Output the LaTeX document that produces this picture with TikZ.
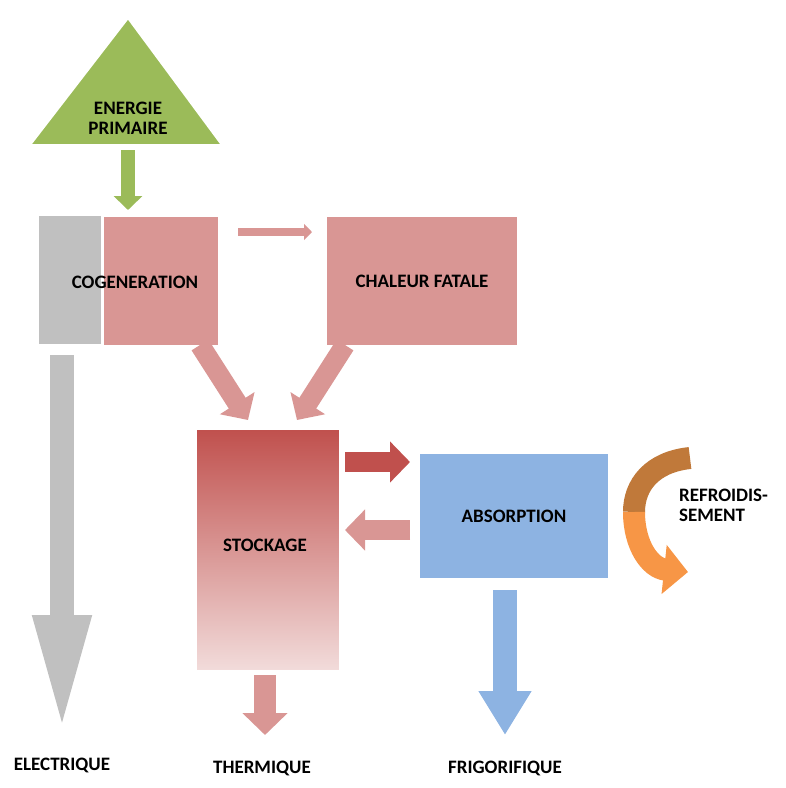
\documentclass[tikz,border=0pt]{standalone}
\usepackage{fontspec}
\setmainfont{Carlito}
\usetikzlibrary{arrows.meta}
\definecolor{vert}{HTML}{9BBB59}
\definecolor{rose}{HTML}{D99694}
\definecolor{rouge}{HTML}{C0504D}
\definecolor{rosepale}{HTML}{F2DCDB}
\definecolor{bleu}{HTML}{8DB3E2}
\definecolor{gris}{HTML}{C0C0C0}
\definecolor{brun}{HTML}{C0793A}
\definecolor{orange}{HTML}{F79646}
\tikzset{
  boite/.style={draw=white,line width=1pt,inner sep=0pt},
  lbl/.style={font=\bfseries\fontsize{9.5}{10}\selectfont,align=center},
  fleche/.style={line width=#1,-{Triangle[width=2*#1,length=#1]}},
}
\begin{document}
\begin{tikzpicture}[x=0.5pt,y=-0.5pt]
    \useasboundingbox (0,0) rectangle (786,788);
    % triangle
    \filldraw[vert,draw=white,line width=1pt] (128,18) -- (222,145) -- (30,145) -- cycle;
    \node[lbl] (prim) at (128,118) {ENERGIE\\PRIMAIRE};
    % boites
    \fill[gris,draw=white,line width=1pt] (38,215) rectangle (102,345);
    \node[boite,fill=rose,minimum width=58pt,minimum height=65pt,anchor=north west] (cogen) at (102,215) {};
    \node[lbl] at (135,282) {COGENERATION};
    \node[boite,fill=rose,minimum width=96pt,minimum height=65pt,anchor=north west] (fatale) at (325,215) {};
    \node[lbl] at (fatale.center) {CHALEUR FATALE};
    \node[boite,minimum width=72pt,minimum height=121pt,anchor=north west,
      top color=rouge,bottom color=rosepale] (stock) at (195,428) {};
    \node[lbl] at (265,545) {STOCKAGE};
    \node[boite,fill=bleu,minimum width=95pt,minimum height=63pt,anchor=north west] (absorb) at (418,452) {};
    \node[lbl] at (absorb.center) {ABSORPTION};
    % fleches
    \coordinate (g1) at (128,150);
    \coordinate (g2) at (128,210);
    \draw[vert,fleche=7pt] (g1) -- (g2);
    \coordinate (c1) at (238,232);
    \coordinate (c2) at (312,232);
    \draw[rose,fleche=4pt] (c1) -- (c2);
    \coordinate (d1) at (200,345);
    \coordinate (d2) at (248,420);
    \draw[rose,fleche=10pt] (d1) -- (d2);
    \coordinate (e1) at (345,345);
    \coordinate (e2) at (297,420);
    \draw[rose,fleche=10pt] (e1) -- (e2);
    \coordinate (r1) at (345,462);
    \coordinate (r2) at (410,462);
    \draw[rouge,fleche=10pt] (r1) -- (r2);
    \coordinate (p1) at (410,530);
    \coordinate (p2) at (345,530);
    \draw[rose,fleche=10pt] (p1) -- (p2);
    \coordinate (el1) at (62,355);
    \coordinate (el2) at (62,735);
    \draw[gris,line width=12pt,-{Triangle[width=26pt,length=60pt]}] (el1) -- (el2);
    \coordinate (t1) at (265,675);
    \coordinate (t2) at (265,735);
    \draw[rose,fleche=11pt] (t1) -- (t2);
    \coordinate (f1) at (505,590);
    \coordinate (f2) at (505,735);
    \draw[bleu,line width=12pt,-{Triangle[width=25pt,length=22pt]}] (f1) -- (f2);
    % refroidissement
    \coordinate (k1) at (690,458);
    \coordinate (k2) at (634,512);
    \coordinate (k3) at (688,572);
    \draw[brun,line width=11pt] (k1) .. controls (652,462) and (634,485) .. (k2);
    \draw[orange,line width=11pt,-{Triangle[width=24pt,length=12pt]}] (k2) .. controls (634,545) and (650,568) .. (k3);
    \node[lbl,align=left,anchor=west] (refr) at (672,505) {REFROIDIS-\\SEMENT};
    % sorties
    \node[lbl] (elec) at (62,765) {ELECTRIQUE};
    \node[lbl] (therm) at (262,768) {THERMIQUE};
    \node[lbl] (frig) at (505,768) {FRIGORIFIQUE};
\end{tikzpicture}
\end{document}
